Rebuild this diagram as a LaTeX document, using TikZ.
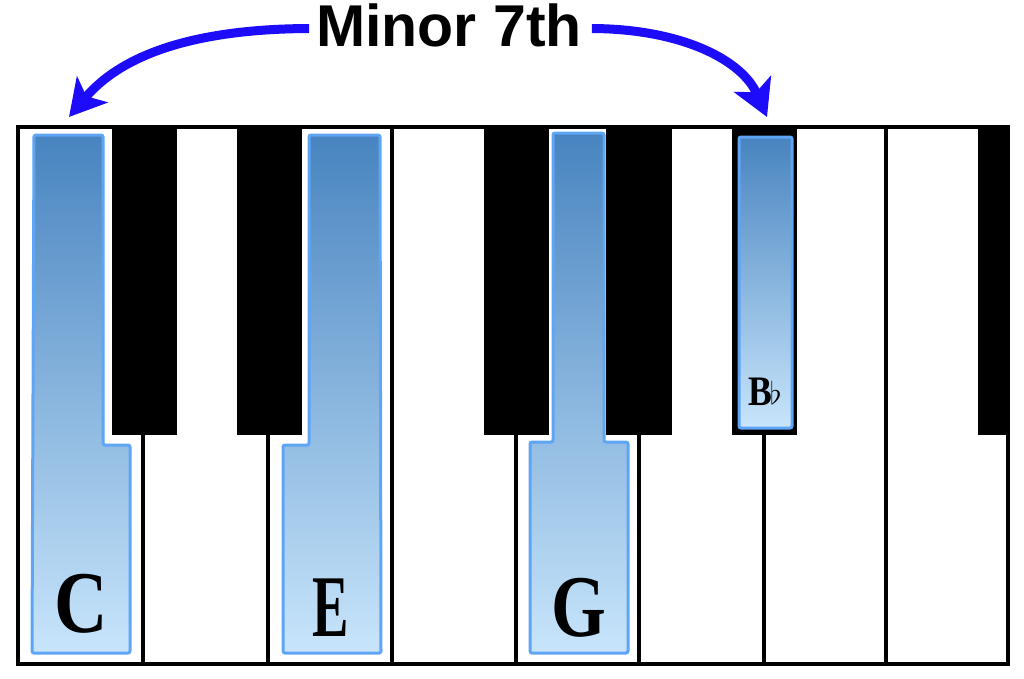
\documentclass[tikz,border=0pt]{standalone}
\usepackage{fontspec}
\usepackage{graphicx}
\setmainfont{Liberation Serif}
\newfontfamily\titlefont{Liberation Sans}
\usetikzlibrary{arrows.meta}
\definecolor{arrowblue}{RGB}{28,12,250}
\definecolor{hltop}{RGB}{72,132,192}
\definecolor{hlbot}{RGB}{200,229,251}
\definecolor{hledge}{RGB}{95,165,245}
\begin{document}
\begin{tikzpicture}[x=1pt,y=-1pt,
  keyframe/.style={draw=black,line width=3.5pt},
  keydivider/.style={draw=black,line width=4pt},
  blackkey/.style={fill=black},
  hl/.style={draw=hledge,line width=3pt,top color=hltop,bottom color=hlbot,rounded corners=2pt},
  notelabel/.style={font=\bfseries\fontsize{88}{88}\selectfont,anchor=base,inner sep=0pt},
  interval/.style={draw=arrowblue,line width=9pt,-{Stealth[length=36pt,width=40pt,inset=9pt]}}
]
\useasboundingbox (0,0) rectangle (1024,678);
\fill[white] (0,0) rectangle (1024,678);

% white keys
\fill[white] (18,127) rectangle (1008,664);
\foreach \x in {143,268,392,515.5,639,764,886}
  \draw[keydivider] (\x,127) -- (\x,664);

% highlighted white keys
\draw[hl] (34,135) -- (103,135) -- (103,445) -- (130,445) -- (130,653) -- (32,653) -- cycle;
\draw[hl] (309,135) -- (380,135) -- (381,653) -- (283,653) -- (283,445) -- (309,445) -- cycle;
\draw[hl] (553,133) -- (604,133) -- (604,442) -- (628,442) -- (628,653) -- (530,653) -- (530,442) -- (553,442) -- cycle;

% black keys
\foreach \a/\b in {112/177,237/302,484/549,606/672,732/797,978/1008}
  \fill[blackkey] (\a,127) rectangle (\b,435);

% highlighted black key
\draw[hl] (739,137) rectangle (792,428);

% frame
\draw[keyframe] (18,127) rectangle (1008,664);

% labels
\node[notelabel] (C) at (81,632) {\scalebox{0.84}[1]{C}};
\node[notelabel] (E) at (331,636) {\scalebox{0.62}[1]{E}};
\node[notelabel] (G) at (579,636) {\scalebox{0.8}[1]{G}};
\node[font=\bfseries\fontsize{42}{42}\selectfont,anchor=base,inner sep=0pt] (Bb) at (765,405) {\scalebox{0.85}[1]{B}\hspace{-2pt}\raisebox{1pt}{\scalebox{1.25}{$\flat$}}};

% title and interval arrows
\node[font=\titlefont\bfseries\fontsize{59}{59}\selectfont,inner sep=0pt] (title) at (449,25) {Minor 7th};
\coordinate (ctip) at (69,117);
\coordinate (bbtip) at (767,117);
\draw[interval] ([xshift=-7pt,yshift=-3.5pt]title.west) .. controls (200,29) and (124,52) .. (ctip);
\draw[interval] ([xshift=10pt,yshift=-3.5pt]title.east) .. controls (682,29) and (742,60) .. (bbtip);
\end{tikzpicture}
\end{document}
